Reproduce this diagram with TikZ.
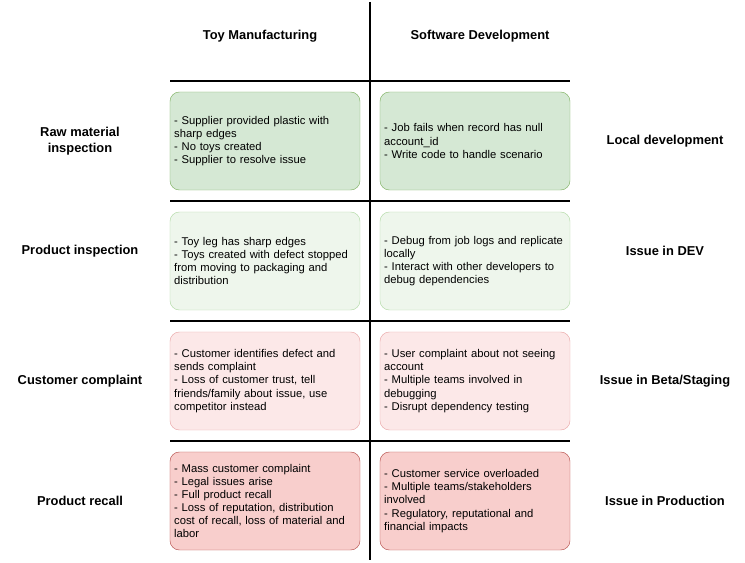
\documentclass[tikz,border=0pt]{standalone}
\usepackage{fontspec}
\setmainfont{Liberation Sans}
\usetikzlibrary{positioning}
\definecolor{gAfill}{HTML}{D5E8D4}\definecolor{gAline}{HTML}{82B366}
\definecolor{gBfill}{HTML}{EEF6EC}\definecolor{gBline}{HTML}{B5DBA8}
\definecolor{rAfill}{HTML}{FCE8E8}\definecolor{rAline}{HTML}{EAA9A9}
\definecolor{rBfill}{HTML}{F8CECC}\definecolor{rBline}{HTML}{B85450}
\newcommand\cardfont{\fontsize{9.6}{11.2}\selectfont\hyphenpenalty=10000\relax\exhyphenpenalty=10000\relax}
\begin{document}
\begin{tikzpicture}[x=0.03cm,y=-0.03cm,
    card/.style={draw, rounded corners=8pt, minimum width=5.7cm, minimum height=2.94cm,
      text width=5.45cm, align=left, font=\cardfont, inner sep=2pt},
    head/.style={font=\bfseries\fontsize{11}{13.5}\selectfont, align=center},
    divider/.style={line width=1.2pt}
]
\useasboundingbox (0,0) rectangle (745,563);

% Column headers
\node[head] (toy) at (260,36) {Toy Manufacturing};
\node[head] (soft) at (480,36) {Software Development};

% Dividers
\draw[divider] (370,2) -- (370,560);
\foreach \y in {81,201,321,441}
    \draw[divider] (170,\y) -- (570,\y);

% Row labels
\node[head] (l1) at (80,141) {Raw material\\inspection};
\node[head] (l2) at (80,251) {Product inspection};
\node[head] (l3) at (80,381) {Customer complaint};
\node[head] (l4) at (80,501) {Product recall};
\node[head] (r1) at (665,141) {Local development};
\node[head] (r2) at (665,251) {Issue in DEV};
\node[head] (r3) at (665,381) {Issue in Beta/Staging};
\node[head] (r4) at (665,501) {Issue in Production};

% Toy boxes
\node[card, fill=gAfill, draw=gAline] (t1) at (265,141) {- Supplier provided plastic with sharp edges\\- No toys created\\- Supplier to resolve issue};
\node[card, fill=gBfill, draw=gBline] (t2) at (265,261) {- Toy leg has sharp edges\\- Toys created with defect stopped from moving to packaging and distribution};
\node[card, fill=rAfill, draw=rAline] (t3) at (265,381) {- Customer identifies defect and sends complaint\\- Loss of customer trust, tell friends/family about issue, use competitor instead};
\node[card, fill=rBfill, draw=rBline] (t4) at (265,501) {- Mass customer complaint\\- Legal issues arise\\- Full product recall\\- Loss of reputation, distribution cost of recall, loss of material and labor};

% Software boxes
\node[card, fill=gAfill, draw=gAline] (s1) at (475,141) {- Job fails when record has null account\_id\\- Write code to handle scenario};
\node[card, fill=gBfill, draw=gBline] (s2) at (475,261) {- Debug from job logs and replicate locally\\- Interact with other developers to debug dependencies};
\node[card, fill=rAfill, draw=rAline] (s3) at (475,381) {- User complaint about not seeing account\\- Multiple teams involved in debugging\\- Disrupt dependency testing};
\node[card, fill=rBfill, draw=rBline] (s4) at (475,501) {- Customer service overloaded\\- Multiple teams/stakeholders involved\\- Regulatory, reputational and financial impacts};
\end{tikzpicture}
\end{document}
